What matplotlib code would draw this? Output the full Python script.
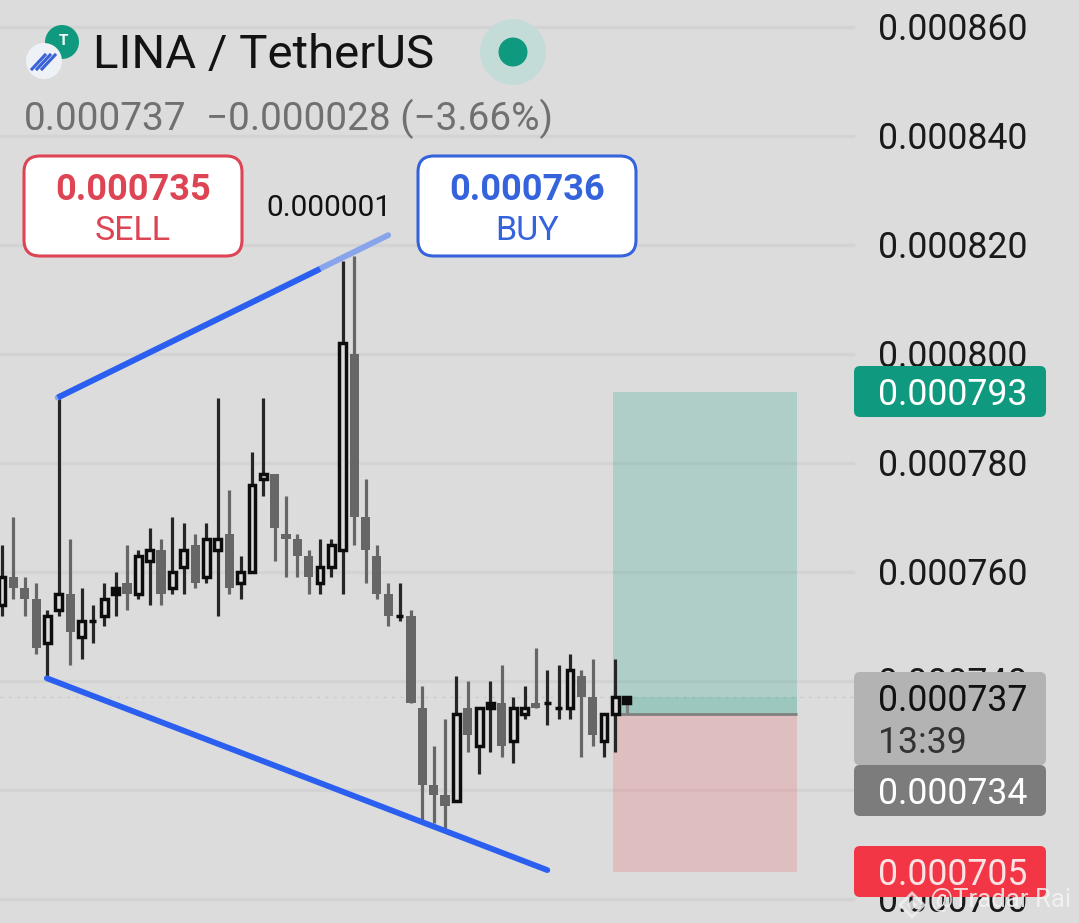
import matplotlib
matplotlib.use('Agg')
import matplotlib.pyplot as plt
from matplotlib.patches import Circle, FancyBboxPatch, Polygon

plt.rcParams['font.family'] = ['Roboto', 'DejaVu Sans']

# prices are in units of 0.000001
tick_prices = [860, 840, 820, 800, 780, 760, 740, 720, 700]
tick_labels = ['0.000860', '0.000840', '0.000820', '0.000800', '0.000780',
               '0.000760', '0.000740', '0.000720', '0.000700']

opens = [754, 759, 757, 755, 747, 753, 756, 748, 751, 752, 756, 758, 756, 762,
         764, 757, 761, 765, 759, 764, 767, 758, 760, 777, 778, 767, 766, 763,
         758, 761, 764, 800, 770, 763, 756, 752, 752, 735, 721, 719, 718, 735,
         728, 735, 736, 729, 734, 736, 736, 735, 735, 741, 737, 729, 734, 736]
highs = [765, 770, 759, 758, 753, 792, 766, 757, 754, 758, 760, 765, 764, 768,
         766, 770, 769, 767, 769, 792, 775, 763, 782, 792, 778, 774, 767, 764,
         766, 766, 817, 818, 777, 765, 758, 758, 753, 739, 728, 733, 741, 740,
         735, 740, 743, 737, 739, 746, 742, 743, 745, 742, 744, 734, 744, 737]
lows = [752, 755, 752, 745, 740.5, 752, 743, 744, 747, 750, 752, 753, 755, 754,
        754, 756, 756, 757, 758, 752, 756, 755, 760, 774, 762, 759, 759, 756,
        756, 759, 756, 765, 758, 755, 750, 751, 736, 714, 714, 713, 718, 727,
        723, 727, 726, 725, 733, 735, 732, 733, 733, 726, 728, 726, 727, 734]
closes = [759, 757, 755, 746, 752, 756, 749, 751, 751, 755, 757, 756, 763, 764,
          756, 760, 764, 758, 766, 766, 757, 760, 776, 778, 768, 766, 763, 759,
          761, 765, 802, 770, 764, 756, 752, 752, 736, 721, 719, 717, 734, 730,
          735, 736, 728, 735, 735, 735, 736, 735, 742, 737, 730, 734, 737, 737]

upper_line_x = [4.9, 34.0]
upper_line_y = [792, 821.8]
upper_solid_x = [4.9, 28.0]
upper_solid_y = [792, 815.6]
lower_line_x = [3.95, 48.0]
lower_line_y = [740.5, 705.3]

pos_left = 53.8
pos_right = 70.0
target_price = 793
entry_price = 734
stop_price = 705
last_price = 737

BG = '#dcdcdc'
GRAY = '#666666'
DARK = '#262626'
GREEN = '#0f9a80'
RED = '#f23645'
BLUE = '#2b5ff0'

fig = plt.figure(figsize=(10.79, 9.23), dpi=100, facecolor=BG)

# price chart, one candle every 11.36 px, 5.45 px per price unit
ax = fig.add_axes([0, 0, 1, 1], facecolor=BG)
ax.set_xlim(-2 / 11.36, 1077 / 11.36)
ax.set_ylim(864.95 - 923 / 5.45, 864.95)
ax.axis('off')

grid_end = 853 / 1079
for p in tick_prices:
    ax.axhline(p, xmin=0, xmax=grid_end, color='#d3d3d3', lw=2.4, zorder=1)
ax.axhline(last_price, xmin=0, xmax=grid_end, color='#cccccc', lw=1, ls=(0, (2, 4)), zorder=1)

# long/short position
ax.fill_between([pos_left, pos_right], entry_price, target_price, color=GREEN, alpha=0.21, lw=0, zorder=2)
ax.fill_between([pos_left, pos_right], entry_price, last_price, color=GREEN, alpha=0.12, lw=0, zorder=2)
ax.fill_between([pos_left, pos_right], stop_price, entry_price, color=RED, alpha=0.18, lw=0, zorder=2)
ax.plot([pos_left, pos_right], [entry_price, entry_price], color='#808080', lw=2, solid_capstyle='butt', zorder=3)

for i in range(len(opens)):
    up = closes[i] >= opens[i]
    wick_color = DARK if up else GRAY
    if i == len(opens) - 1:
        wick_color = '#808080'
    ax.vlines(i, lows[i], highs[i], color=wick_color, lw=2.3, zorder=4)
    bottom = min(opens[i], closes[i])
    height = abs(closes[i] - opens[i])
    if up:
        # one unit bodies close up to solid black on the screen
        face = '#0c0c0c' if height == 1 and i in (10, 43, 55) else BG
        ax.bar(i, height, bottom=bottom, width=0.6, facecolor=face, edgecolor='#0c0c0c', lw=2.5, zorder=5)
    else:
        ax.bar(i, height, bottom=bottom, width=0.8, color=GRAY, lw=0, zorder=5)

# trend lines
ax.plot(upper_line_x, upper_line_y, color='#88a5ec', lw=4.2, solid_capstyle='round', zorder=6)
ax.plot(upper_solid_x, upper_solid_y, color=BLUE, lw=4.2, solid_capstyle='butt', zorder=7)
ax.plot(lower_line_x, lower_line_y, color=BLUE, lw=4.2, solid_capstyle='round', zorder=7)

# price scale labels
tick_x = 878 / 11.36 - 2 / 11.36
for p, label in zip(tick_prices, tick_labels):
    ax.text(tick_x, p - 0.5, label, fontsize=25.7, color='#1a1a1a', va='center', ha='left', zorder=8)

# overlay in pixel coordinates for the header and badges
ov = fig.add_axes([0, 0, 1, 1], facecolor='none')
ov.set_xlim(0, 1079)
ov.set_ylim(923, 0)
ov.axis('off')


def badge(x0, y0, x1, y1, color):
    ov.add_patch(FancyBboxPatch((x0, y0), x1 - x0, y1 - y0, boxstyle='round,pad=0,rounding_size=6',
                                facecolor=color, edgecolor='none', zorder=9))


badge(854, 366, 1046, 417, GREEN)
ov.text(878, 395, '0.000793', fontsize=25.7, color='white', va='center', zorder=10)
badge(854, 672, 1046, 765, '#b3b3b3')
ov.text(878, 701, '0.000737', fontsize=25.7, color='#111111', va='center', zorder=10)
ov.text(878, 743, '13:39', fontsize=25.7, color='#333333', va='center', zorder=10)
badge(854, 765, 1046, 816, '#7c7c7c')
ov.text(878, 794, '0.000734', fontsize=25.7, color='white', va='center', zorder=10)
badge(854, 846, 1046, 897, RED)
ov.text(878, 875, '0.000705', fontsize=25.7, color='#fbe3e5', va='center', zorder=10)

# watermark
ov.add_patch(Polygon([(912, 893), (924, 905), (912, 917), (900, 905)], closed=True,
                     facecolor='none', edgecolor='#f2f2f2', lw=2, alpha=0.8, zorder=11))
ov.add_patch(Polygon([(912, 900), (917, 905), (912, 910), (907, 905)], closed=True,
                     facecolor='#f2f2f2', edgecolor='none', alpha=0.8, zorder=11))
ov.text(930, 900, '@Tradar Rai', fontsize=18.5, color='#f4f4f4', alpha=0.85, va='center', zorder=11)

# header icons
ov.add_patch(Circle((62, 42), 17, facecolor=GREEN, edgecolor='none', zorder=2))
ov.text(63, 41, 'T', fontsize=11, color='white', weight='bold', ha='center', va='center', zorder=3)
ov.add_patch(Circle((44, 61), 18, facecolor='#eef1f6', edgecolor='none', zorder=4))
for d in (-5, 0, 5):
    ov.plot([37 + d, 50 + d], [69, 55], color='#3b62d8', lw=2.2, zorder=5)

ov.text(93, 55, 'LINA / TetherUS', fontsize=34.1, color='#131313', va='center')
ov.add_patch(Circle((513, 52), 33, facecolor='#c4dcd8', edgecolor='none'))
ov.add_patch(Circle((513, 52), 14.5, facecolor=GREEN, edgecolor='none'))
ov.text(24, 119, '0.000737', fontsize=27.9, color='#707070', va='center')
ov.text(206, 119, '\u22120.000028 (\u22123.66%)', fontsize=27.9, color='#707070', va='center')

# sell / buy buttons
ov.add_patch(FancyBboxPatch((24, 156), 218, 100, boxstyle='round,pad=0,rounding_size=16',
                            facecolor='white', edgecolor='#dd4454', lw=2.2))
ov.text(133, 190, '0.000735', fontsize=26, weight='bold', color='#dd4454', ha='center', va='center')
ov.text(133, 231, 'SELL', fontsize=24.5, color='#dd4454', ha='center', va='center')
ov.add_patch(FancyBboxPatch((418, 156), 218, 100, boxstyle='round,pad=0,rounding_size=16',
                            facecolor='white', edgecolor='#3563dc', lw=2.2))
ov.text(527, 190, '0.000736', fontsize=26, weight='bold', color='#3563dc', ha='center', va='center')
ov.text(527, 231, 'BUY', fontsize=24.5, color='#3563dc', ha='center', va='center')
ov.text(329, 208, '0.000001', fontsize=21.5, color='#111111', ha='center', va='center')

fig.savefig('out.png', dpi=100, facecolor=BG)
